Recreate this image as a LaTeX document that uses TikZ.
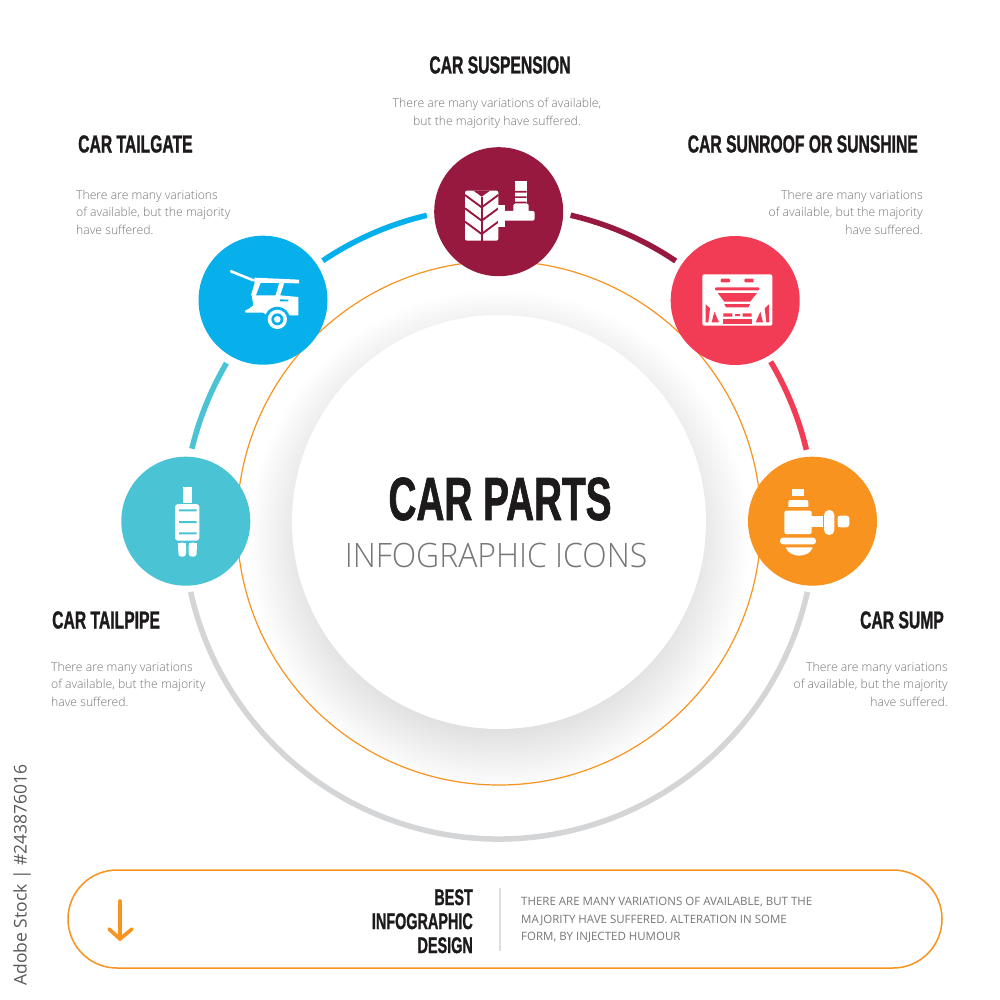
\documentclass[tikz,border=0pt]{standalone}
\usepackage{fontspec}
\setmainfont{Open Sans}
\newfontfamily\headf[FakeStretch=.635,BoldFeatures={FakeBold=1}]{Liberation Sans}
\newfontfamily\lightf[UprightFont={* Light}]{Open Sans}
\newfontfamily\lightn[UprightFont={* Light},FakeStretch=.95]{Open Sans}
\newfontfamily\medf{Open Sans}
\usetikzlibrary{calc}
\definecolor{cmaroon}{HTML}{97193F}
\definecolor{cred}{HTML}{F23C55}
\definecolor{corange}{HTML}{F8931F}
\definecolor{cblue}{HTML}{07B0EB}
\definecolor{ccyan}{HTML}{4AC4D4}
\definecolor{cgray}{HTML}{D4D5D7}
\definecolor{chead}{HTML}{1D1A1C}
\definecolor{cbody}{HTML}{76767A}
\tikzset{
  badge/.style={circle,minimum size=129pt,inner sep=0pt,draw=none},
  ringarc/.style={line width=5.5pt},
  headtxt/.style={inner sep=0pt,text=chead,font=\headf\bfseries\fontsize{24.7}{24.7}\selectfont},
  bodytxt/.style={inner sep=0pt,text=cbody,font=\lightf\fontsize{12.2}{17.5}\selectfont},
  ico/.style={fill=white,draw=none},
}
\begin{document}
\begin{tikzpicture}[x=1pt,y=-1pt]
\useasboundingbox (0,0) rectangle (1000,1000);
\fill[white] (0,0) rectangle (1000,1000);
\coordinate (c) at (499,523);
% shadow
\foreach \r in {190,192,...,250}{\fill[black,opacity=.004] (499,540) circle[radius=\r];}
% orange ring
\draw[corange,line width=1.2pt] (c) circle[radius=262];
% white disc
\node[circle,fill=white,minimum size=414pt,inner sep=0pt] (disc) at (499,522) {};
% rings
\draw[ringarc,cgray] ($(c)+(-192.6:316)$) arc[start angle=-192.6,end angle=-347.4,radius=316];
\draw[ringarc,ccyan] ($(c)+(-149.6:316)$) arc[start angle=-149.6,end angle=-166.4,radius=316];
\draw[ringarc,cblue] ($(c)+(-103.2:316)$) arc[start angle=-103.2,end angle=-123.9,radius=316];
\draw[ringarc,cmaroon] ($(c)+(-76.9:316)$) arc[start angle=-76.9,end angle=-56,radius=316];
\draw[ringarc,cred] ($(c)+(-30.7:316)$) arc[start angle=-30.7,end angle=-13.4,radius=316];
% badges
\node[badge,fill=ccyan] (tailpipe) at (185.8,521.2) {};
\node[badge,fill=cblue] (tailgate) at (263,300.2) {};
\node[badge,fill=cmaroon] (suspension) at (498.7,211.7) {};
\node[badge,fill=cred] (sunroof) at (735.2,300.5) {};
\node[badge,fill=corange] (sump) at (812.5,521.2) {};
% tailpipe icon
\begin{scope}[shift={(110,220)},scale=1/3]
\fill[ico] (220,802) rectangle (245,850);
\fill[ico,rounded corners=3pt] (195,852) rectangle (268,962);
\fill[ccyan] (207,868) rectangle (260,874) (207,903) rectangle (260,909) (207,937) rectangle (260,943);
\fill[ico,rounded corners=3pt] (205,968) rectangle (228,1010);
\fill[ico] (205,968) rectangle (228,990);
\fill[ico,rounded corners=3pt] (236,968) rectangle (260,1010);
\fill[ico] (236,968) rectangle (260,990);
\end{scope}
% tailgate icon
\begin{scope}[shift={(225,262)},scale=1/3]
\draw[white,line width=2.6pt,line cap=round] (18,28) -- (85,55);
\fill[ico] (88,47) -- (222,53) -- (222,64) -- (88,62) -- cycle;
\fill[ico] (93,50) -- (78,100) -- (92,102) -- (107,62) -- cycle;
\fill[ico] (163,62) -- (151,102) -- (165,102) -- (178,62) -- cycle;
\fill[ico] (80,100) -- (165,100) -- (220,105) -- (220,160) -- (125,160) -- (115,152) -- (62,152) -- (60,146) -- (72,140) -- (85,130) -- cycle;
\fill[cblue] (165,112) -- (190,113) -- (190,118) -- (165,118) -- cycle;
\fill[cblue] (157,172) circle[radius=38];
\fill[ico] (157,172) circle[radius=29];
\fill[cblue] (157,172) circle[radius=18];
\fill[ico] (157,172) circle[radius=10];
\end{scope}
% suspension icon
\begin{scope}[shift={(420,130)},scale=1/3]
\fill[ico,rounded corners=2pt] (135,182) rectangle (235,332);
\fill[cmaroon] (160,182) -- (210,182) -- (185,200) -- cycle;
\draw[cmaroon,line width=1.7pt] (185,200) -- (185,332);
\foreach \yy in {195,235,275}{
  \draw[cmaroon,line width=1.9pt] (135,\yy) -- (185,\yy+37) -- (235,\yy);
}
\fill[ico] (235,225) rectangle (255,290);
\fill[ico,rounded corners=2pt] (250,243) rectangle (344,272);
\fill[ico,rounded corners=1pt] (280,222) rectangle (326,250);
\fill[ico] (284,153) rectangle (320,225);
\fill[cmaroon] (284,183) rectangle (320,188) (284,199) rectangle (320,204) (284,215) rectangle (320,220);
\end{scope}
% sunroof icon
\begin{scope}[shift={(695,265)},scale=1/3]
\fill[ico,rounded corners=2pt] (22,28) rectangle (232,182);
\fill[cred,rounded corners=1pt] (77,41) rectangle (105,52) (148,41) rectangle (176,52);
\fill[cred,rounded corners=1pt] (60,67) rectangle (193,76);
\fill[cred] (68,84) -- (186,84) -- (165,110) -- (88,110) -- cycle;
\fill[cred] (88,117) -- (165,117) -- (160,127) -- (93,127) -- cycle;
\fill[cred] (85,145) rectangle (112,155) (120,147) rectangle (135,153) (143,145) rectangle (170,155);
\fill[cred] (85,163) rectangle (170,177);
\fill[cred] (32,118) -- (45,130) -- (40,172) -- (32,172) -- cycle;
\fill[cred] (58,140) -- (72,172) -- (50,172) -- cycle;
\fill[cred] (222,118) -- (209,130) -- (214,172) -- (222,172) -- cycle;
\fill[cred] (196,140) -- (182,172) -- (204,172) -- cycle;
\end{scope}
% sump icon
\begin{scope}[shift={(740,450)},scale=1/3]
\fill[ico] (155,117) rectangle (193,137);
\fill[ico,rounded corners=2pt] (145,150) rectangle (205,180);
\fill[corange] (140,172) rectangle (210,182);
\fill[ico,rounded corners=2pt] (133,182) rectangle (215,252);
\fill[ico] (210,197) rectangle (250,232);
\fill[ico,rounded corners=5pt] (252,180) rectangle (283,255);
\fill[ico,rounded corners=3pt] (293,197) rectangle (328,232);
\fill[ico] (293,197) rectangle (310,232);
\fill[ico,rounded corners=3pt] (120,263) rectangle (228,283);
\fill[ico] (137,292) -- (218,292) .. controls (214,308) and (195,317) .. (177,317) .. controls (160,317) and (142,308) .. (137,292) -- cycle;
\end{scope}
% centre titles
\node[inner sep=0pt,text=chead,font=\headf\bfseries\fontsize{61}{61}\selectfont] (title) at (500,499) {CAR PARTS};
\node[inner sep=0pt,text=cbody,font=\lightn\fontsize{33.6}{36}\selectfont] (subtitle) at (496,555) {INFOGRAPHIC ICONS};
% labels
\node[headtxt] (hSusp) at (500,65) {CAR SUSPENSION};
\node[bodytxt,align=center,anchor=north] (bSusp) at (497,98) {There are many variations of available,\\but the majority have suffered.};
\node[headtxt,anchor=west] (hGate) at (78,144) {CAR TAILGATE};
\node[bodytxt,align=left,anchor=north west] (bGate) at (76,190) {There are many variations\\of available, but the majority\\have suffered.};
\node[headtxt,anchor=east] (hRoof) at (918,144) {CAR SUNROOF OR SUNSHINE};
\node[bodytxt,align=right,anchor=north east] (bRoof) at (923,190) {There are many variations\\of available, but the majority\\have suffered.};
\node[headtxt,anchor=west] (hPipe) at (52,620) {CAR TAILPIPE};
\node[bodytxt,align=left,anchor=north west] (bPipe) at (51,662) {There are many variations\\of available, but the majority\\have suffered.};
\node[headtxt,anchor=east] (hSump) at (944,620) {CAR SUMP};
\node[bodytxt,align=right,anchor=north east] (bSump) at (948,662) {There are many variations\\of available, but the majority\\have suffered.};
% bottom pill
\draw[corange,line width=1.5pt,rounded corners=49pt] (68,870) rectangle (942,968);
\coordinate (arrA) at (120,901);
\coordinate (arrB) at (120,939);
\draw[corange,line width=3.6pt,line cap=round,line join=round] (arrA) -- (arrB);
\draw[corange,line width=3.6pt,line cap=round,line join=round] (109,929) -- (arrB) -- (132,929);
\node[inner sep=0pt,text=chead,font=\headf\bfseries\fontsize{22.7}{24}\selectfont,align=right,anchor=north east] (best) at (473,889) {BEST\\INFOGRAPHIC\\DESIGN};
\draw[cgray!80,line width=1.2pt] (500,888) -- (500,951);
\node[inner sep=0pt,text=cbody,font=\medf\fontsize{11.5}{17.6}\selectfont,align=left,anchor=north west] (desc) at (521,897) {THERE ARE MANY VARIATIONS OF AVAILABLE, BUT THE\\MAJORITY HAVE SUFFERED. ALTERATION IN SOME\\FORM, BY INJECTED HUMOUR};
% side stamp
\node[inner sep=0pt,text=black!65,rotate=90,font=\medf\fontsize{17.5}{20}\selectfont] (stamp) at (22,875) {Adobe Stock | \#243876016};
\end{tikzpicture}
\end{document}
